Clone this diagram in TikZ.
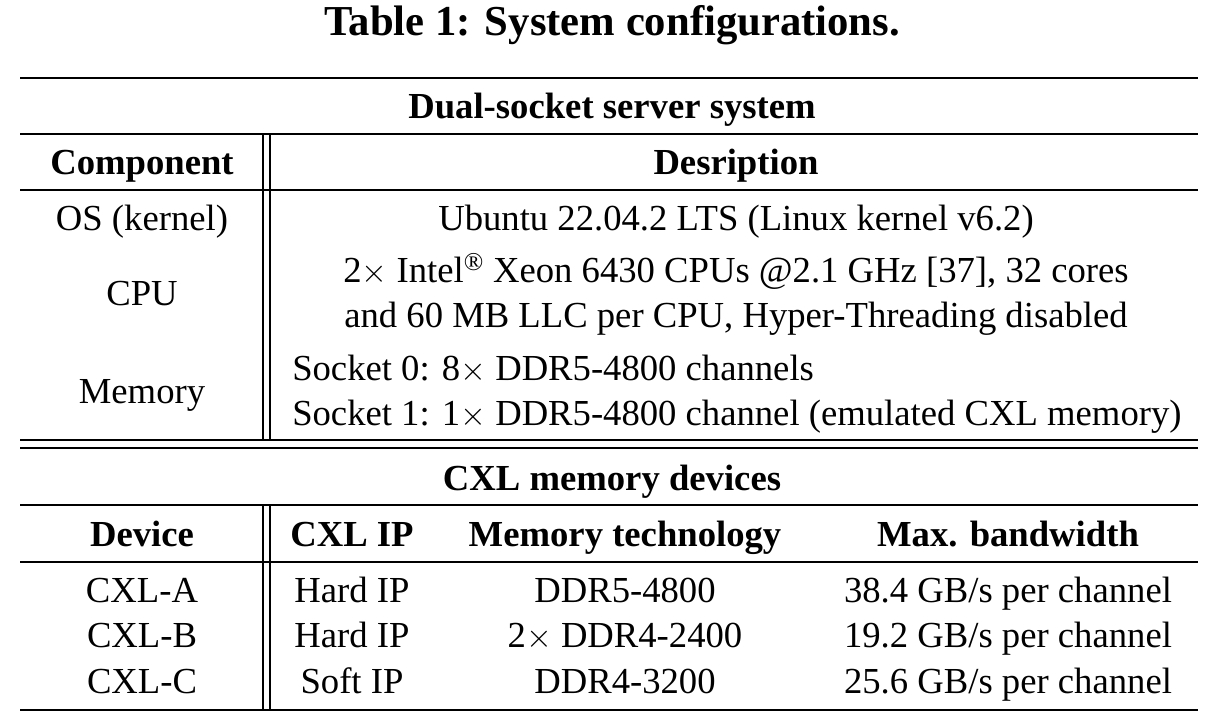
\documentclass[tikz,border=0pt]{standalone}
\usepackage{fontspec}
\setmainfont{Liberation Serif}
\begin{document}
\begin{tikzpicture}[x=0.75pt,y=-0.75pt,
  t/.style={inner sep=0pt,text height=19pt,text depth=5pt,font=\fontsize{27.5}{30}\selectfont},
  b/.style={t,font=\fontsize{27.5}{30}\selectfont\bfseries},
  r/.style={line width=1pt}]
\useasboundingbox (0,0) rectangle (1217,718);
\node[inner sep=0pt,font=\fontsize{32}{36}\selectfont\bfseries] (title) at (612,25) {Table 1: System configurations.};
\draw[r,line width=1.3pt] (20,78) -- (1198,78);
\draw[r] (20,134) -- (1198,134);
\draw[r] (20,190) -- (1198,190);
\draw[r] (20,440) -- (1198,440);
\draw[r] (20,448) -- (1198,448);
\draw[r] (20,505) -- (1198,505);
\draw[r] (20,562) -- (1198,562);
\draw[r,line width=1.3pt] (20,710) -- (1198,710);
\draw[r] (263,134) -- (263,440); \draw[r] (270,134) -- (270,440);
\draw[r] (263,505) -- (263,710); \draw[r] (270,505) -- (270,710);
\node[b] (h1) at (612,109) {Dual-socket server system};
\node[b] (c1) at (142,165) {Component};
\node[b] (c2) at (736,165) {Desription};
\node[t] (os) at (142,221) {OS (kernel)};
\node[t] (osd) at (736,221) {Ubuntu 22.04.2 LTS (Linux kernel v6.2)};
\node[t] (cpu) at (142,296) {CPU};
\node[t] (cpu1) at (736,273) {2$\times$ Intel\textsuperscript{\textregistered} Xeon 6430 CPUs @2.1 GHz [37], 32 cores};
\node[t] (cpu2) at (736,318) {and 60 MB LLC per CPU, Hyper-Threading disabled};
\node[t] (mem) at (142,394) {Memory};
\node[t,anchor=west] (m1) at (292,371) {Socket 0: 8$\times$ DDR5-4800 channels};
\node[t,anchor=west] (m2) at (292,416) {Socket 1: 1$\times$ DDR5-4800 channel (emulated CXL memory)};
\node[b] (h2) at (612,481) {CXL memory devices};
\node[b] (d1) at (142,537) {Device};
\node[b] (d2) at (352,537) {CXL IP};
\node[b] (d3) at (625,537) {Memory technology};
\node[b] (d4) at (1008,537) {Max. bandwidth};
\node[t] (a1) at (142,593) {CXL-A}; \node[t] (a2) at (352,593) {Hard IP};
\node[t] (a3) at (625,593) {DDR5-4800}; \node[t] (a4) at (1008,593) {38.4 GB/s per channel};
\node[t] (b1) at (142,638) {CXL-B}; \node[t] (b2) at (352,638) {Hard IP};
\node[t] (b3) at (625,638) {2$\times$ DDR4-2400}; \node[t] (b4) at (1008,638) {19.2 GB/s per channel};
\node[t] (e1) at (142,684) {CXL-C}; \node[t] (e2) at (352,684) {Soft IP};
\node[t] (e3) at (625,684) {DDR4-3200}; \node[t] (e4) at (1008,684) {25.6 GB/s per channel};
\end{tikzpicture}
\end{document}
